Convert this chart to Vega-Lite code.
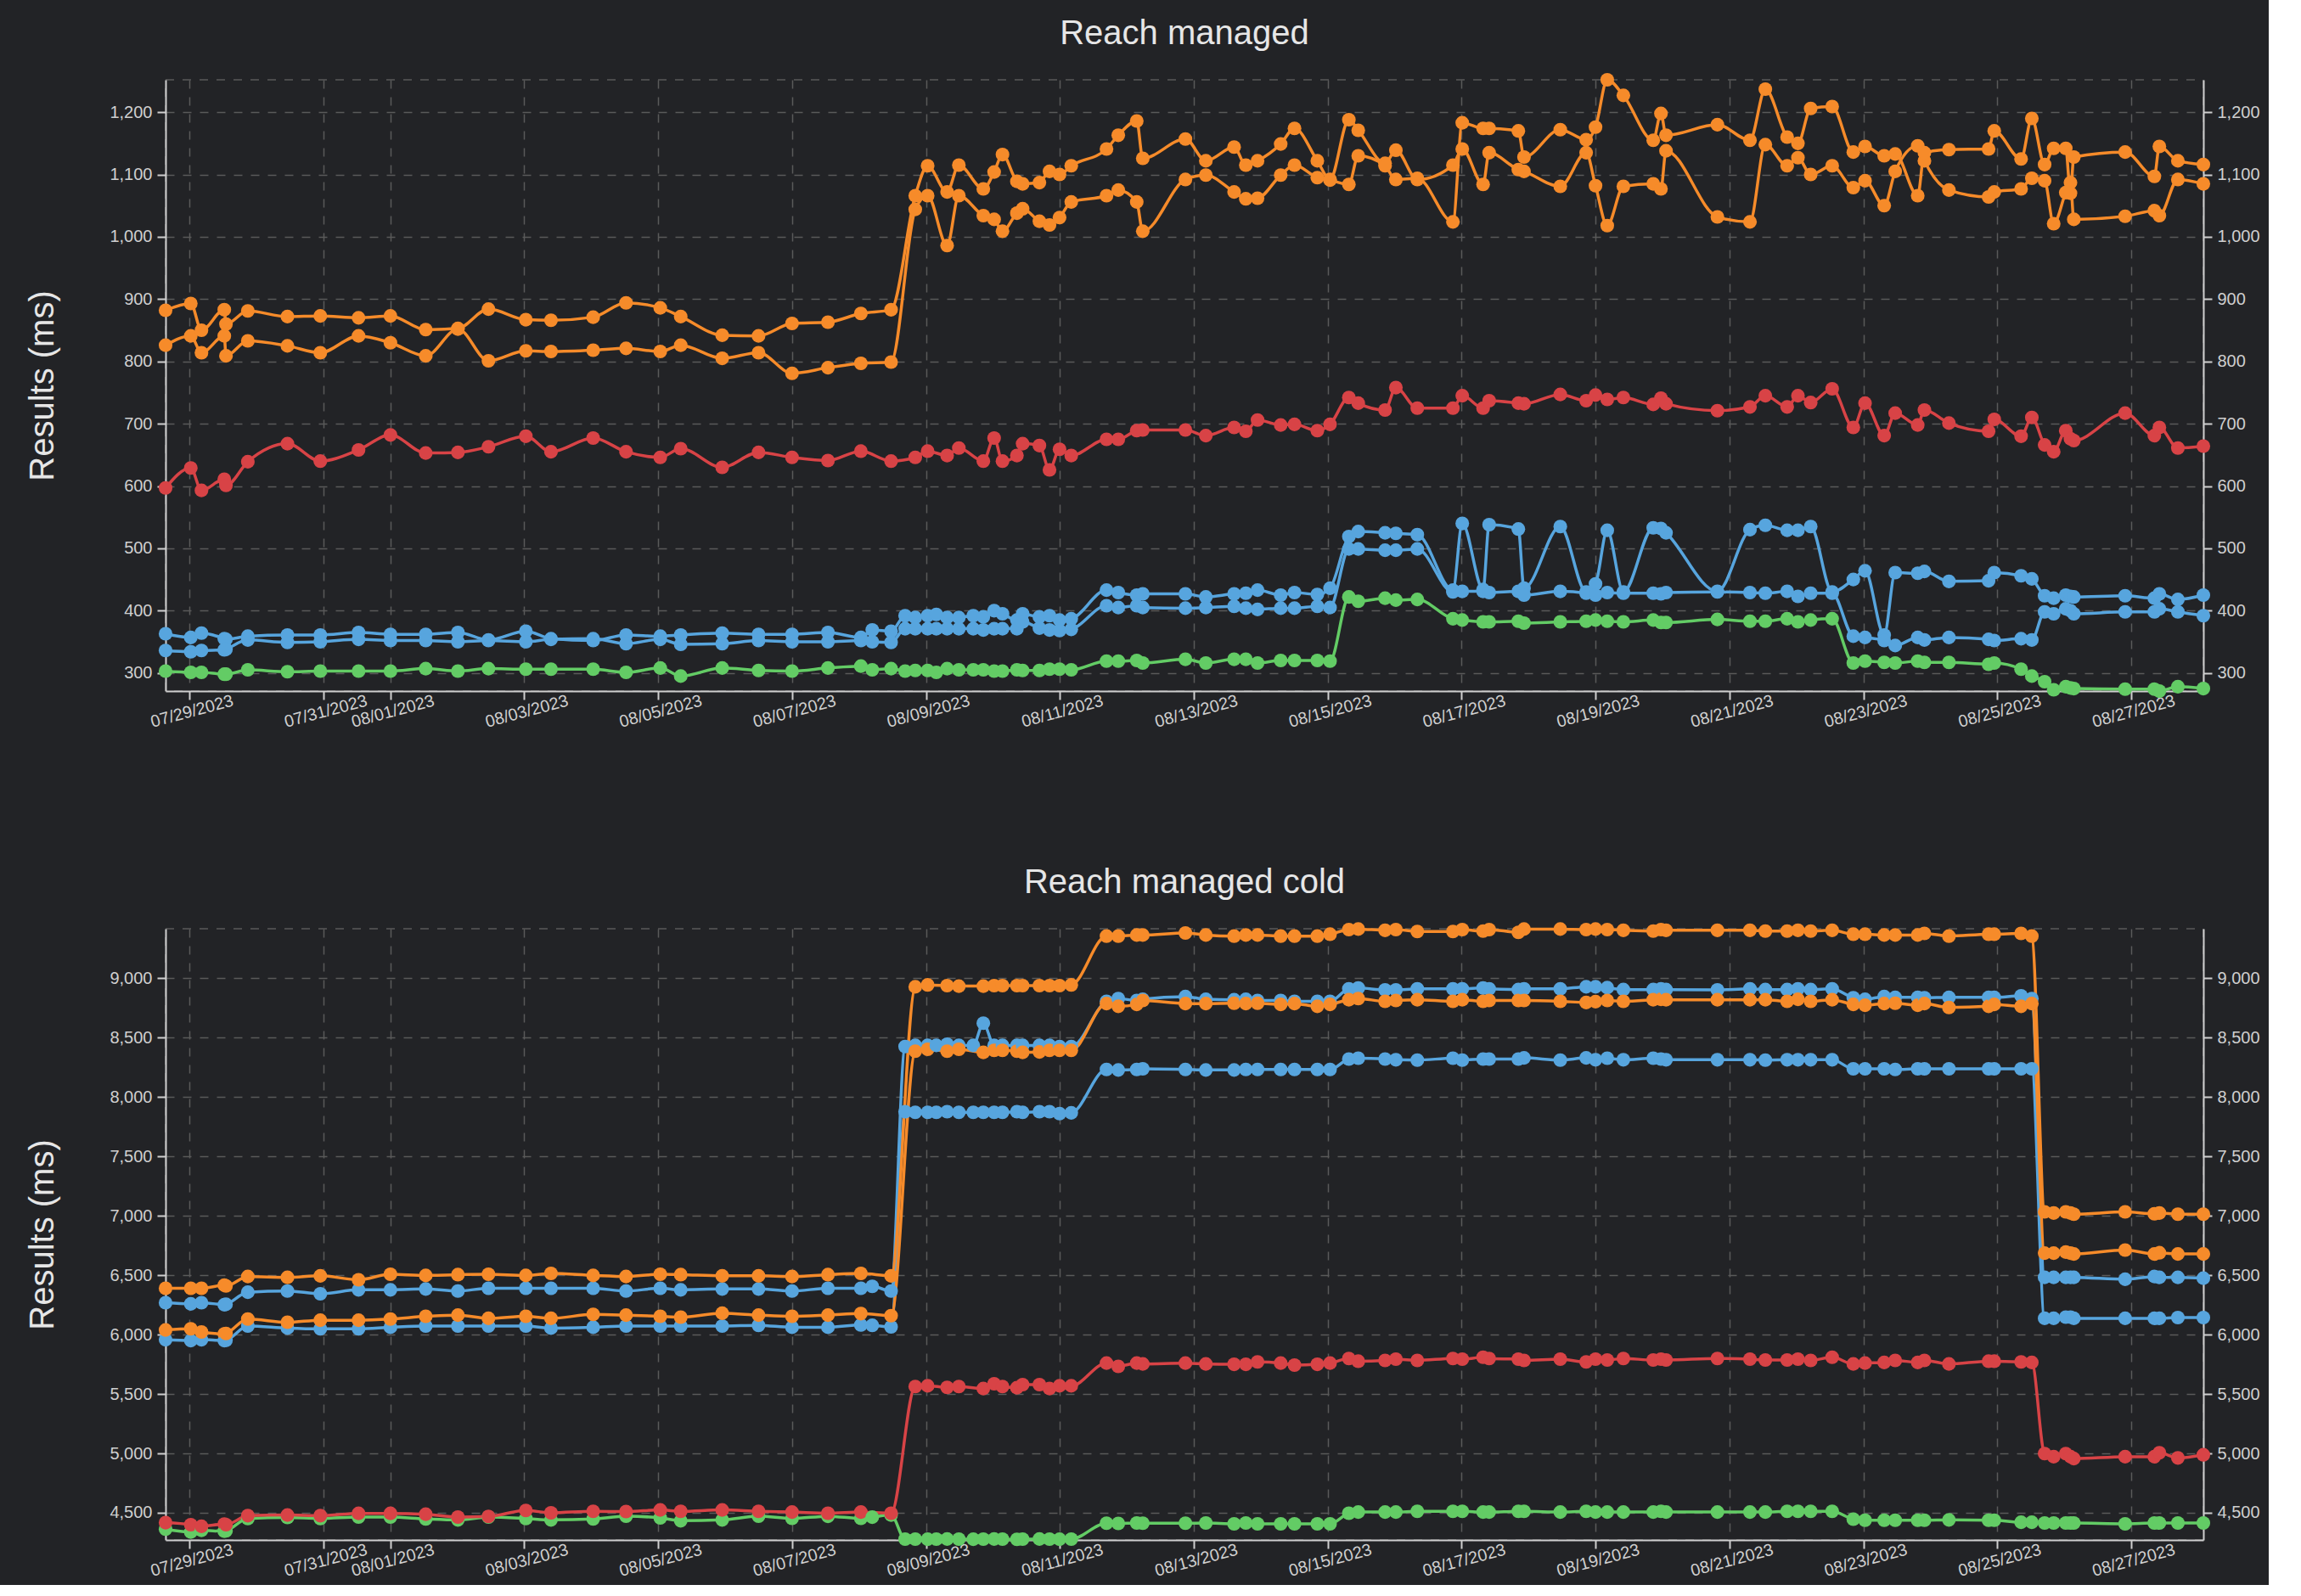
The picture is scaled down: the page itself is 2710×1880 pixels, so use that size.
{
  "$schema": "https://vega.github.io/schema/vega-lite/v6.json",
  "background": "#222326",
  "padding": {"left": 30, "top": 19, "right": 10, "bottom": 5},
  "config": {
    "font": "Liberation Sans",
    "view": {"stroke": "#5a5a5a", "strokeDash": [10, 10], "strokeWidth": 1.5},
    "axis": {
      "labelFont": "Liberation Sans", "labelFontSize": 20, "labelColor": "#cfcfcf",
      "domainColor": "#cfcfcf", "domainWidth": 2, "tickColor": "#cfcfcf", "tickWidth": 2, "tickSize": 10,
      "gridColor": "#5a5a5a", "gridDash": [10, 10], "gridWidth": 1.5,
      "titleFont": "Liberation Sans", "titleFontSize": 40, "titleFontWeight": "normal", "titleColor": "#e6e6e6"
    },
    "title": {"font": "Liberation Sans", "fontSize": 40, "fontWeight": "normal", "color": "#e6e6e6", "anchor": "middle", "frame": "group", "offset": 26}
  },
  "datasets": {
    "managed": [
      {"t":"2023-07-28T15:27","o1":882,"o2":826,"r":597,"b1":363,"b2":336,"g":303},
      {"t":"2023-07-29T00:29","o1":893,"o2":841,"r":629,"b1":357,"b2":334,"g":301},
      {"t":"2023-07-29T04:19","o1":850,"o2":814,"r":593,"b1":364,"b2":336,"g":301},
      {"t":"2023-07-29T12:30","o1":883,"o2":841,"r":611,"b1":355,"b2":337,"g":298},
      {"t":"2023-07-29T13:06","o1":860,"o2":809,"r":601,"b1":354,"b2":338,"g":298},
      {"t":"2023-07-29T20:56","o1":881,"o2":833,"r":639,"b1":359,"b2":353,"g":305},
      {"t":"2023-07-30T11:08","o1":872,"o2":825,"r":668,"b1":361,"b2":349,"g":302},
      {"t":"2023-07-30T22:55","o1":873,"o2":814,"r":640,"b1":361,"b2":350,"g":303},
      {"t":"2023-07-31T12:37","o1":870,"o2":841,"r":658,"b1":365,"b2":354,"g":303},
      {"t":"2023-08-01T00:03","o1":873,"o2":830,"r":682,"b1":362,"b2":352,"g":303},
      {"t":"2023-08-01T12:42","o1":851,"o2":809,"r":653,"b1":362,"b2":352,"g":307},
      {"t":"2023-08-02T00:14","o1":853,"o2":852,"r":654,"b1":365,"b2":350,"g":303},
      {"t":"2023-08-02T11:11","o1":884,"o2":801,"r":663,"b1":353,"b2":352,"g":307},
      {"t":"2023-08-03T00:35","o1":867,"o2":817,"r":680,"b1":367,"b2":350,"g":306},
      {"t":"2023-08-03T09:36","o1":866,"o2":816,"r":655,"b1":355,"b2":354,"g":306},
      {"t":"2023-08-04T00:43","o1":871,"o2":818,"r":677,"b1":352,"b2":355,"g":306},
      {"t":"2023-08-04T12:30","o1":894,"o2":821,"r":655,"b1":361,"b2":347,"g":301},
      {"t":"2023-08-05T00:46","o1":886,"o2":816,"r":646,"b1":359,"b2":354,"g":308},
      {"t":"2023-08-05T08:06","o1":872,"o2":826,"r":660,"b1":361,"b2":346,"g":295},
      {"t":"2023-08-05T22:58","o1":842,"o2":805,"r":630,"b1":364,"b2":347,"g":308},
      {"t":"2023-08-06T11:59","o1":841,"o2":814,"r":654,"b1":362,"b2":352,"g":304},
      {"t":"2023-08-07T00:00","o1":861,"o2":781,"r":646,"b1":362,"b2":350,"g":303},
      {"t":"2023-08-07T12:52","o1":863,"o2":790,"r":641,"b1":365,"b2":350,"g":308},
      {"t":"2023-08-08T00:40","o1":877,"o2":797,"r":656,"b1":357,"b2":352,"g":311},
      {"t":"2023-08-08T04:45","o1":null,"o2":null,"r":null,"b1":369,"b2":350,"g":305},
      {"t":"2023-08-08T11:30","o1":883,"o2":799,"r":640,"b1":367,"b2":349,"g":307},
      {"t":"2023-08-08T16:32","o1":null,"o2":null,"r":null,"b1":392,"b2":371,"g":303},
      {"t":"2023-08-08T20:10","o1":1066,"o2":1044,"r":646,"b1":389,"b2":371,"g":304},
      {"t":"2023-08-09T00:36","o1":1114,"o2":1066,"r":656,"b1":392,"b2":371,"g":304},
      {"t":"2023-08-09T03:43","o1":null,"o2":null,"r":null,"b1":394,"b2":371,"g":301},
      {"t":"2023-08-09T07:35","o1":1072,"o2":986,"r":649,"b1":389,"b2":371,"g":307},
      {"t":"2023-08-09T11:47","o1":1115,"o2":1066,"r":661,"b1":389,"b2":371,"g":305},
      {"t":"2023-08-09T16:58","o1":null,"o2":null,"r":null,"b1":392,"b2":371,"g":305},
      {"t":"2023-08-09T20:34","o1":1077,"o2":1034,"r":640,"b1":390,"b2":369,"g":305},
      {"t":"2023-08-10T00:26","o1":1104,"o2":1028,"r":677,"b1":400,"b2":371,"g":303},
      {"t":"2023-08-10T03:26","o1":1132,"o2":1009,"r":640,"b1":395,"b2":371,"g":303},
      {"t":"2023-08-10T08:36","o1":1089,"o2":1038,"r":649,"b1":385,"b2":371,"g":305},
      {"t":"2023-08-10T10:39","o1":1085,"o2":1045,"r":668,"b1":395,"b2":382,"g":304},
      {"t":"2023-08-10T16:40","o1":1087,"o2":1025,"r":665,"b1":390,"b2":372,"g":304},
      {"t":"2023-08-10T20:17","o1":1105,"o2":1019,"r":626,"b1":392,"b2":369,"g":306},
      {"t":"2023-08-10T23:53","o1":1100,"o2":1031,"r":659,"b1":385,"b2":368,"g":306},
      {"t":"2023-08-11T04:05","o1":1114,"o2":1056,"r":649,"b1":387,"b2":370,"g":305},
      {"t":"2023-08-11T16:43","o1":1141,"o2":1066,"r":675,"b1":433,"b2":408,"g":319},
      {"t":"2023-08-11T20:56","o1":1163,"o2":1075,"r":675,"b1":429,"b2":405,"g":319},
      {"t":"2023-08-12T03:33","o1":1186,"o2":1056,"r":689,"b1":425,"b2":408,"g":320},
      {"t":"2023-08-12T05:43","o1":1126,"o2":1009,"r":690,"b1":427,"b2":405,"g":316},
      {"t":"2023-08-12T21:00","o1":1157,"o2":1092,"r":690,"b1":427,"b2":404,"g":322},
      {"t":"2023-08-13T04:19","o1":1122,"o2":1099,"r":681,"b1":422,"b2":405,"g":316},
      {"t":"2023-08-13T14:27","o1":1144,"o2":1072,"r":694,"b1":427,"b2":407,"g":322},
      {"t":"2023-08-13T18:39","o1":1115,"o2":1061,"r":688,"b1":428,"b2":404,"g":322},
      {"t":"2023-08-13T22:51","o1":1122,"o2":1062,"r":706,"b1":433,"b2":402,"g":316},
      {"t":"2023-08-14T07:09","o1":1149,"o2":1099,"r":698,"b1":425,"b2":404,"g":320},
      {"t":"2023-08-14T12:06","o1":1174,"o2":1115,"r":699,"b1":429,"b2":404,"g":320},
      {"t":"2023-08-14T20:17","o1":1122,"o2":1095,"r":689,"b1":426,"b2":407,"g":320},
      {"t":"2023-08-15T00:50","o1":1092,"o2":1091,"r":699,"b1":436,"b2":405,"g":319},
      {"t":"2023-08-15T07:35","o1":1188,"o2":1084,"r":742,"b1":519,"b2":499,"g":422},
      {"t":"2023-08-15T10:57","o1":1171,"o2":1130,"r":733,"b1":527,"b2":499,"g":415},
      {"t":"2023-08-15T20:34","o1":1118,"o2":1114,"r":722,"b1":525,"b2":497,"g":420},
      {"t":"2023-08-16T00:26","o1":1139,"o2":1092,"r":758,"b1":524,"b2":497,"g":417},
      {"t":"2023-08-16T08:07","o1":1092,"o2":1094,"r":725,"b1":522,"b2":499,"g":418},
      {"t":"2023-08-16T20:53","o1":1115,"o2":1024,"r":725,"b1":433,"b2":430,"g":387},
      {"t":"2023-08-17T00:14","o1":1141,"o2":1183,"r":745,"b1":540,"b2":431,"g":385},
      {"t":"2023-08-17T07:42","o1":1084,"o2":1174,"r":725,"b1":434,"b2":431,"g":382},
      {"t":"2023-08-17T09:52","o1":1135,"o2":1174,"r":737,"b1":538,"b2":429,"g":382},
      {"t":"2023-08-17T20:20","o1":1108,"o2":1170,"r":733,"b1":531,"b2":431,"g":383},
      {"t":"2023-08-17T22:22","o1":1105,"o2":1128,"r":732,"b1":436,"b2":425,"g":380},
      {"t":"2023-08-18T11:22","o1":1081,"o2":1172,"r":747,"b1":535,"b2":431,"g":382},
      {"t":"2023-08-18T20:38","o1":1135,"o2":1156,"r":737,"b1":430,"b2":428,"g":383},
      {"t":"2023-08-19T00:00","o1":1082,"o2":1176,"r":746,"b1":443,"b2":425,"g":385},
      {"t":"2023-08-19T04:12","o1":1018,"o2":1252,"r":739,"b1":529,"b2":429,"g":383},
      {"t":"2023-08-19T09:59","o1":1081,"o2":1227,"r":742,"b1":430,"b2":428,"g":382},
      {"t":"2023-08-19T20:41","o1":1085,"o2":1155,"r":731,"b1":533,"b2":428,"g":385},
      {"t":"2023-08-19T23:27","o1":1077,"o2":1198,"r":741,"b1":532,"b2":427,"g":381},
      {"t":"2023-08-20T01:16","o1":1138,"o2":1163,"r":732,"b1":525,"b2":429,"g":381},
      {"t":"2023-08-20T19:41","o1":1032,"o2":1180,"r":721,"b1":431,"b2":430,"g":386},
      {"t":"2023-08-21T07:21","o1":1024,"o2":1155,"r":727,"b1":530,"b2":429,"g":383},
      {"t":"2023-08-21T12:52","o1":1148,"o2":1237,"r":745,"b1":537,"b2":428,"g":383},
      {"t":"2023-08-21T20:41","o1":1114,"o2":1160,"r":727,"b1":529,"b2":431,"g":387},
      {"t":"2023-08-22T00:33","o1":1127,"o2":1150,"r":745,"b1":529,"b2":423,"g":382},
      {"t":"2023-08-22T05:07","o1":1100,"o2":1206,"r":734,"b1":535,"b2":428,"g":385},
      {"t":"2023-08-22T12:49","o1":1114,"o2":1209,"r":756,"b1":430,"b2":428,"g":387},
      {"t":"2023-08-22T20:24","o1":1079,"o2":1136,"r":694,"b1":450,"b2":359,"g":316},
      {"t":"2023-08-23T00:36","o1":1090,"o2":1145,"r":733,"b1":464,"b2":357,"g":319},
      {"t":"2023-08-23T07:28","o1":1050,"o2":1130,"r":681,"b1":361,"b2":352,"g":317},
      {"t":"2023-08-23T11:25","o1":1105,"o2":1133,"r":717,"b1":461,"b2":344,"g":316},
      {"t":"2023-08-23T19:29","o1":1146,"o2":1066,"r":698,"b1":460,"b2":357,"g":319},
      {"t":"2023-08-23T21:53","o1":1122,"o2":1135,"r":722,"b1":463,"b2":353,"g":317},
      {"t":"2023-08-24T06:40","o1":1075,"o2":1140,"r":701,"b1":447,"b2":357,"g":317},
      {"t":"2023-08-24T20:53","o1":1064,"o2":1141,"r":688,"b1":448,"b2":354,"g":314},
      {"t":"2023-08-24T22:55","o1":1072,"o2":1170,"r":707,"b1":461,"b2":352,"g":316},
      {"t":"2023-08-25T08:32","o1":1077,"o2":1125,"r":680,"b1":456,"b2":355,"g":306},
      {"t":"2023-08-25T12:23","o1":1094,"o2":1190,"r":710,"b1":451,"b2":353,"g":295},
      {"t":"2023-08-25T16:58","o1":1090,"o2":1116,"r":666,"b1":424,"b2":398,"g":286},
      {"t":"2023-08-25T20:13","o1":1021,"o2":1142,"r":655,"b1":420,"b2":395,"g":273},
      {"t":"2023-08-26T00:33","o1":1071,"o2":1142,"r":689,"b1":425,"b2":403,"g":278},
      {"t":"2023-08-26T02:14","o1":1087,"o2":1070,"r":676,"b1":423,"b2":400,"g":276},
      {"t":"2023-08-26T03:26","o1":1028,"o2":1128,"r":673,"b1":422,"b2":395,"g":275},
      {"t":"2023-08-26T21:50","o1":1033,"o2":1136,"r":717,"b1":424,"b2":398,"g":274},
      {"t":"2023-08-27T08:18","o1":1042,"o2":1097,"r":681,"b1":420,"b2":398,"g":274},
      {"t":"2023-08-27T10:06","o1":1034,"o2":1145,"r":694,"b1":427,"b2":403,"g":271},
      {"t":"2023-08-27T16:44","o1":1092,"o2":1122,"r":661,"b1":418,"b2":398,"g":278},
      {"t":"2023-08-28T01:52","o1":1085,"o2":1116,"r":664,"b1":425,"b2":392,"g":275}
    ],
    "cold": [
      {"t":"2023-07-28T15:27","o1":6390,"o2":6039,"r":4417,"b1":6269,"b2":5957,"g":4362},
      {"t":"2023-07-29T00:29","o1":6390,"o2":6049,"r":4400,"b1":6259,"b2":5950,"g":4338},
      {"t":"2023-07-29T04:19","o1":6390,"o2":6022,"r":4386,"b1":6269,"b2":5957,"g":4352},
      {"t":"2023-07-29T12:30","o1":6416,"o2":6006,"r":4405,"b1":6252,"b2":5950,"g":4345},
      {"t":"2023-07-29T13:06","o1":6410,"o2":6010,"r":4400,"b1":6255,"b2":5952,"g":4348},
      {"t":"2023-07-29T20:56","o1":6489,"o2":6131,"r":4476,"b1":6357,"b2":6072,"g":4452},
      {"t":"2023-07-30T11:08","o1":6482,"o2":6104,"r":4481,"b1":6367,"b2":6055,"g":4460},
      {"t":"2023-07-30T22:55","o1":6495,"o2":6121,"r":4476,"b1":6344,"b2":6049,"g":4452},
      {"t":"2023-07-31T12:37","o1":6462,"o2":6121,"r":4495,"b1":6377,"b2":6049,"g":4464},
      {"t":"2023-08-01T00:03","o1":6508,"o2":6131,"r":4495,"b1":6377,"b2":6062,"g":4464},
      {"t":"2023-08-01T12:42","o1":6498,"o2":6154,"r":4488,"b1":6384,"b2":6072,"g":4448},
      {"t":"2023-08-02T00:14","o1":6505,"o2":6164,"r":4464,"b1":6367,"b2":6072,"g":4440},
      {"t":"2023-08-02T11:11","o1":6508,"o2":6137,"r":4469,"b1":6390,"b2":6072,"g":4464},
      {"t":"2023-08-03T00:35","o1":6498,"o2":6154,"r":4519,"b1":6390,"b2":6072,"g":4452},
      {"t":"2023-08-03T09:36","o1":6515,"o2":6137,"r":4500,"b1":6390,"b2":6055,"g":4440},
      {"t":"2023-08-04T00:43","o1":6498,"o2":6170,"r":4512,"b1":6390,"b2":6062,"g":4448},
      {"t":"2023-08-04T12:30","o1":6489,"o2":6164,"r":4510,"b1":6367,"b2":6072,"g":4471},
      {"t":"2023-08-05T00:46","o1":6508,"o2":6154,"r":4524,"b1":6390,"b2":6072,"g":4457},
      {"t":"2023-08-05T08:06","o1":6505,"o2":6147,"r":4512,"b1":6377,"b2":6072,"g":4433},
      {"t":"2023-08-05T22:58","o1":6495,"o2":6180,"r":4524,"b1":6384,"b2":6072,"g":4440},
      {"t":"2023-08-06T11:59","o1":6495,"o2":6164,"r":4512,"b1":6384,"b2":6078,"g":4471},
      {"t":"2023-08-07T00:00","o1":6489,"o2":6154,"r":4506,"b1":6367,"b2":6062,"g":4453},
      {"t":"2023-08-07T12:52","o1":6505,"o2":6164,"r":4496,"b1":6390,"b2":6062,"g":4470},
      {"t":"2023-08-08T00:40","o1":6515,"o2":6177,"r":4506,"b1":6390,"b2":6081,"g":4453},
      {"t":"2023-08-08T04:45","o1":null,"o2":null,"r":null,"b1":6406,"b2":6078,"g":4463},
      {"t":"2023-08-08T11:30","o1":6495,"o2":6160,"r":4496,"b1":6367,"b2":6065,"g":4481},
      {"t":"2023-08-08T16:32","o1":null,"o2":null,"r":null,"b1":8425,"b2":7877,"g":4278},
      {"t":"2023-08-08T20:10","o1":8928,"o2":8386,"r":5563,"b1":8435,"b2":7871,"g":4278},
      {"t":"2023-08-09T00:36","o1":8944,"o2":8402,"r":5569,"b1":8435,"b2":7871,"g":4277},
      {"t":"2023-08-09T03:43","o1":null,"o2":null,"r":null,"b1":8435,"b2":7871,"g":4278},
      {"t":"2023-08-09T07:35","o1":8938,"o2":8386,"r":5556,"b1":8445,"b2":7877,"g":4279},
      {"t":"2023-08-09T11:47","o1":8934,"o2":8402,"r":5563,"b1":8435,"b2":7871,"g":4278},
      {"t":"2023-08-09T16:58","o1":null,"o2":null,"r":null,"b1":8435,"b2":7871,"g":4277},
      {"t":"2023-08-09T20:34","o1":8934,"o2":8376,"r":5546,"b1":8622,"b2":7871,"g":4278},
      {"t":"2023-08-10T00:26","o1":8938,"o2":8393,"r":5586,"b1":8435,"b2":7871,"g":4279},
      {"t":"2023-08-10T03:26","o1":8938,"o2":8393,"r":5563,"b1":8435,"b2":7871,"g":4278},
      {"t":"2023-08-10T08:36","o1":8938,"o2":8386,"r":5553,"b1":8435,"b2":7877,"g":4276},
      {"t":"2023-08-10T10:39","o1":8938,"o2":8376,"r":5579,"b1":8435,"b2":7871,"g":4278},
      {"t":"2023-08-10T16:40","o1":8938,"o2":8380,"r":5579,"b1":8435,"b2":7877,"g":4279},
      {"t":"2023-08-10T20:17","o1":8938,"o2":8393,"r":5546,"b1":8435,"b2":7877,"g":4278},
      {"t":"2023-08-10T23:53","o1":8938,"o2":8393,"r":5569,"b1":8425,"b2":7861,"g":4277},
      {"t":"2023-08-11T04:05","o1":8944,"o2":8393,"r":5569,"b1":8425,"b2":7867,"g":4278},
      {"t":"2023-08-11T16:43","o1":9355,"o2":8787,"r":5760,"b1":8806,"b2":8232,"g":4412},
      {"t":"2023-08-11T20:56","o1":9355,"o2":8764,"r":5733,"b1":8829,"b2":8228,"g":4410},
      {"t":"2023-08-12T03:33","o1":9364,"o2":8780,"r":5760,"b1":8813,"b2":8232,"g":4414},
      {"t":"2023-08-12T05:43","o1":9364,"o2":8813,"r":5753,"b1":8823,"b2":8238,"g":4412},
      {"t":"2023-08-12T21:00","o1":9381,"o2":8787,"r":5760,"b1":8846,"b2":8232,"g":4412},
      {"t":"2023-08-13T04:19","o1":9364,"o2":8787,"r":5753,"b1":8823,"b2":8228,"g":4414},
      {"t":"2023-08-13T14:27","o1":9355,"o2":8790,"r":5750,"b1":8819,"b2":8228,"g":4407},
      {"t":"2023-08-13T18:39","o1":9364,"o2":8787,"r":5750,"b1":8823,"b2":8232,"g":4414},
      {"t":"2023-08-13T22:51","o1":9364,"o2":8790,"r":5770,"b1":8813,"b2":8232,"g":4407},
      {"t":"2023-08-14T07:09","o1":9355,"o2":8780,"r":5760,"b1":8813,"b2":8232,"g":4407},
      {"t":"2023-08-14T12:06","o1":9355,"o2":8787,"r":5743,"b1":8806,"b2":8232,"g":4407},
      {"t":"2023-08-14T20:17","o1":9355,"o2":8764,"r":5750,"b1":8806,"b2":8232,"g":4407},
      {"t":"2023-08-15T00:50","o1":9371,"o2":8780,"r":5760,"b1":8806,"b2":8232,"g":4407},
      {"t":"2023-08-15T07:35","o1":9410,"o2":8819,"r":5799,"b1":8911,"b2":8320,"g":4496},
      {"t":"2023-08-15T10:57","o1":9414,"o2":8829,"r":5776,"b1":8918,"b2":8327,"g":4506},
      {"t":"2023-08-15T20:34","o1":9404,"o2":8806,"r":5783,"b1":8902,"b2":8320,"g":4506},
      {"t":"2023-08-16T00:26","o1":9410,"o2":8813,"r":5793,"b1":8902,"b2":8314,"g":4506},
      {"t":"2023-08-16T08:07","o1":9394,"o2":8819,"r":5783,"b1":8911,"b2":8311,"g":4512},
      {"t":"2023-08-16T20:53","o1":9394,"o2":8806,"r":5799,"b1":8911,"b2":8327,"g":4512},
      {"t":"2023-08-17T00:14","o1":9410,"o2":8819,"r":5793,"b1":8911,"b2":8311,"g":4512},
      {"t":"2023-08-17T07:42","o1":9397,"o2":8806,"r":5809,"b1":8918,"b2":8320,"g":4506},
      {"t":"2023-08-17T09:52","o1":9410,"o2":8813,"r":5799,"b1":8911,"b2":8320,"g":4506},
      {"t":"2023-08-17T20:20","o1":9387,"o2":8813,"r":5793,"b1":8905,"b2":8320,"g":4512},
      {"t":"2023-08-17T22:22","o1":9414,"o2":8813,"r":5783,"b1":8911,"b2":8330,"g":4512},
      {"t":"2023-08-18T11:22","o1":9414,"o2":8806,"r":5793,"b1":8911,"b2":8311,"g":4506},
      {"t":"2023-08-18T20:38","o1":9410,"o2":8796,"r":5770,"b1":8928,"b2":8330,"g":4512},
      {"t":"2023-08-19T00:00","o1":9414,"o2":8803,"r":5793,"b1":8928,"b2":8314,"g":4506},
      {"t":"2023-08-19T04:12","o1":9410,"o2":8813,"r":5786,"b1":8921,"b2":8327,"g":4506},
      {"t":"2023-08-19T09:59","o1":9404,"o2":8806,"r":5799,"b1":8905,"b2":8314,"g":4506},
      {"t":"2023-08-19T20:41","o1":9397,"o2":8819,"r":5786,"b1":8905,"b2":8327,"g":4506},
      {"t":"2023-08-19T23:27","o1":9410,"o2":8823,"r":5793,"b1":8911,"b2":8320,"g":4512},
      {"t":"2023-08-20T01:16","o1":9404,"o2":8819,"r":5786,"b1":8905,"b2":8314,"g":4506},
      {"t":"2023-08-20T19:41","o1":9404,"o2":8819,"r":5799,"b1":8902,"b2":8314,"g":4506},
      {"t":"2023-08-21T07:21","o1":9404,"o2":8819,"r":5793,"b1":8911,"b2":8314,"g":4506},
      {"t":"2023-08-21T12:52","o1":9397,"o2":8819,"r":5786,"b1":8905,"b2":8311,"g":4506},
      {"t":"2023-08-21T20:41","o1":9397,"o2":8806,"r":5786,"b1":8905,"b2":8314,"g":4512},
      {"t":"2023-08-22T00:33","o1":9404,"o2":8823,"r":5793,"b1":8911,"b2":8314,"g":4512},
      {"t":"2023-08-22T05:07","o1":9397,"o2":8806,"r":5783,"b1":8905,"b2":8314,"g":4512},
      {"t":"2023-08-22T12:49","o1":9404,"o2":8819,"r":5809,"b1":8911,"b2":8314,"g":4512},
      {"t":"2023-08-22T20:24","o1":9371,"o2":8780,"r":5753,"b1":8836,"b2":8238,"g":4446},
      {"t":"2023-08-23T00:36","o1":9371,"o2":8773,"r":5760,"b1":8823,"b2":8238,"g":4437},
      {"t":"2023-08-23T07:28","o1":9364,"o2":8787,"r":5766,"b1":8846,"b2":8238,"g":4437},
      {"t":"2023-08-23T11:25","o1":9364,"o2":8790,"r":5783,"b1":8839,"b2":8232,"g":4437},
      {"t":"2023-08-23T19:29","o1":9364,"o2":8773,"r":5766,"b1":8839,"b2":8238,"g":4437},
      {"t":"2023-08-23T21:53","o1":9378,"o2":8787,"r":5783,"b1":8836,"b2":8238,"g":4437},
      {"t":"2023-08-24T06:40","o1":9355,"o2":8754,"r":5753,"b1":8839,"b2":8238,"g":4440},
      {"t":"2023-08-24T20:53","o1":9371,"o2":8764,"r":5776,"b1":8839,"b2":8238,"g":4437},
      {"t":"2023-08-24T22:55","o1":9371,"o2":8780,"r":5776,"b1":8839,"b2":8238,"g":4437},
      {"t":"2023-08-25T08:32","o1":9378,"o2":8764,"r":5770,"b1":8852,"b2":8238,"g":4420},
      {"t":"2023-08-25T12:23","o1":9355,"o2":8787,"r":5766,"b1":8829,"b2":8238,"g":4420},
      {"t":"2023-08-25T16:58","o1":7033,"o2":6686,"r":4998,"b1":6482,"b2":6137,"g":4414},
      {"t":"2023-08-25T20:13","o1":7024,"o2":6686,"r":4972,"b1":6482,"b2":6137,"g":4414},
      {"t":"2023-08-26T00:33","o1":7033,"o2":6695,"r":4998,"b1":6482,"b2":6147,"g":4414},
      {"t":"2023-08-26T02:14","o1":7024,"o2":6686,"r":4972,"b1":6482,"b2":6147,"g":4414},
      {"t":"2023-08-26T03:26","o1":7014,"o2":6679,"r":4956,"b1":6482,"b2":6137,"g":4414},
      {"t":"2023-08-26T21:50","o1":7033,"o2":6712,"r":4972,"b1":6466,"b2":6137,"g":4407},
      {"t":"2023-08-27T08:18","o1":7017,"o2":6679,"r":4972,"b1":6489,"b2":6137,"g":4414},
      {"t":"2023-08-27T10:06","o1":7024,"o2":6689,"r":5005,"b1":6482,"b2":6137,"g":4414},
      {"t":"2023-08-27T16:44","o1":7014,"o2":6679,"r":4962,"b1":6482,"b2":6144,"g":4414},
      {"t":"2023-08-28T01:52","o1":7014,"o2":6679,"r":4988,"b1":6475,"b2":6144,"g":4414}
    ]
  },
  "spacing": 157,
  "vconcat": [
    {
      "title": "Reach managed",
      "width": 2400,
      "height": 720,
      "data": {"name": "managed"},
      "transform": [
        {"fold": ["g", "b1", "b2", "r", "o1", "o2"], "as": ["series", "ms"]},
        {"filter": {"field": "ms", "valid": true}}
      ],
      "encoding": {
        "x": {
          "field": "t", "type": "temporal", "scale": {"nice": false},
          "axis": {"title": null, "format": "%m/%d/%Y", "tickCount": {"interval": "day", "step": 2}, "labelAngle": -15, "labelAlign": "center", "labelBaseline": "top", "labelPadding": 4, "labelOverlap": false, "labelFlush": false, "grid": true}
        },
        "color": {
          "field": "series", "type": "nominal", "legend": null,
          "scale": {"domain": ["o1", "o2", "r", "b1", "b2", "g"], "range": ["#f68b2a", "#f68b2a", "#d84346", "#57a5de", "#57a5de", "#63cc65"]}
        }
      },
      "layer": [
        {
          "mark": {"type": "line", "strokeWidth": 3.5, "interpolate": "monotone"},
          "encoding": {
            "y": {
              "field": "ms", "type": "quantitative",
              "scale": {"domain": [271, 1252], "nice": false, "zero": false},
              "axis": {"title": "Results (ms)", "values": [300, 400, 500, 600, 700, 800, 900, 1000, 1100, 1200], "format": ",d", "grid": true, "labelPadding": 6, "titlePadding": 58}
            }
          }
        },
        {
          "mark": {"type": "circle", "size": 260, "opacity": 1},
          "encoding": {
            "y": {
              "field": "ms", "type": "quantitative",
              "scale": {"domain": [271, 1252], "nice": false, "zero": false},
              "axis": {"orient": "right", "title": null, "values": [300, 400, 500, 600, 700, 800, 900, 1000, 1100, 1200], "format": ",d", "grid": false, "labelPadding": 6}
            }
          }
        }
      ],
      "resolve": {"scale": {"y": "independent"}}
    },
    {
      "title": "Reach managed cold",
      "width": 2400,
      "height": 720,
      "data": {"name": "cold"},
      "transform": [
        {"fold": ["g", "b1", "b2", "r", "o1", "o2"], "as": ["series", "ms"]},
        {"filter": {"field": "ms", "valid": true}}
      ],
      "encoding": {
        "x": {
          "field": "t", "type": "temporal", "scale": {"nice": false},
          "axis": {"title": null, "format": "%m/%d/%Y", "tickCount": {"interval": "day", "step": 2}, "labelAngle": -15, "labelAlign": "center", "labelBaseline": "top", "labelPadding": 4, "labelOverlap": false, "labelFlush": false, "grid": true}
        },
        "color": {
          "field": "series", "type": "nominal", "legend": null,
          "scale": {"domain": ["o1", "o2", "r", "b1", "b2", "g"], "range": ["#f68b2a", "#f68b2a", "#d84346", "#57a5de", "#57a5de", "#63cc65"]}
        }
      },
      "layer": [
        {
          "mark": {"type": "line", "strokeWidth": 3.5, "interpolate": "monotone"},
          "encoding": {
            "y": {
              "field": "ms", "type": "quantitative",
              "scale": {"domain": [4271, 9417], "nice": false, "zero": false},
              "axis": {"title": "Results (ms)", "values": [4500, 5000, 5500, 6000, 6500, 7000, 7500, 8000, 8500, 9000], "format": ",d", "grid": true, "labelPadding": 6, "titlePadding": 58}
            }
          }
        },
        {
          "mark": {"type": "circle", "size": 260, "opacity": 1},
          "encoding": {
            "y": {
              "field": "ms", "type": "quantitative",
              "scale": {"domain": [4271, 9417], "nice": false, "zero": false},
              "axis": {"orient": "right", "title": null, "values": [4500, 5000, 5500, 6000, 6500, 7000, 7500, 8000, 8500, 9000], "format": ",d", "grid": false, "labelPadding": 6}
            }
          }
        }
      ],
      "resolve": {"scale": {"y": "independent"}}
    }
  ]
}
